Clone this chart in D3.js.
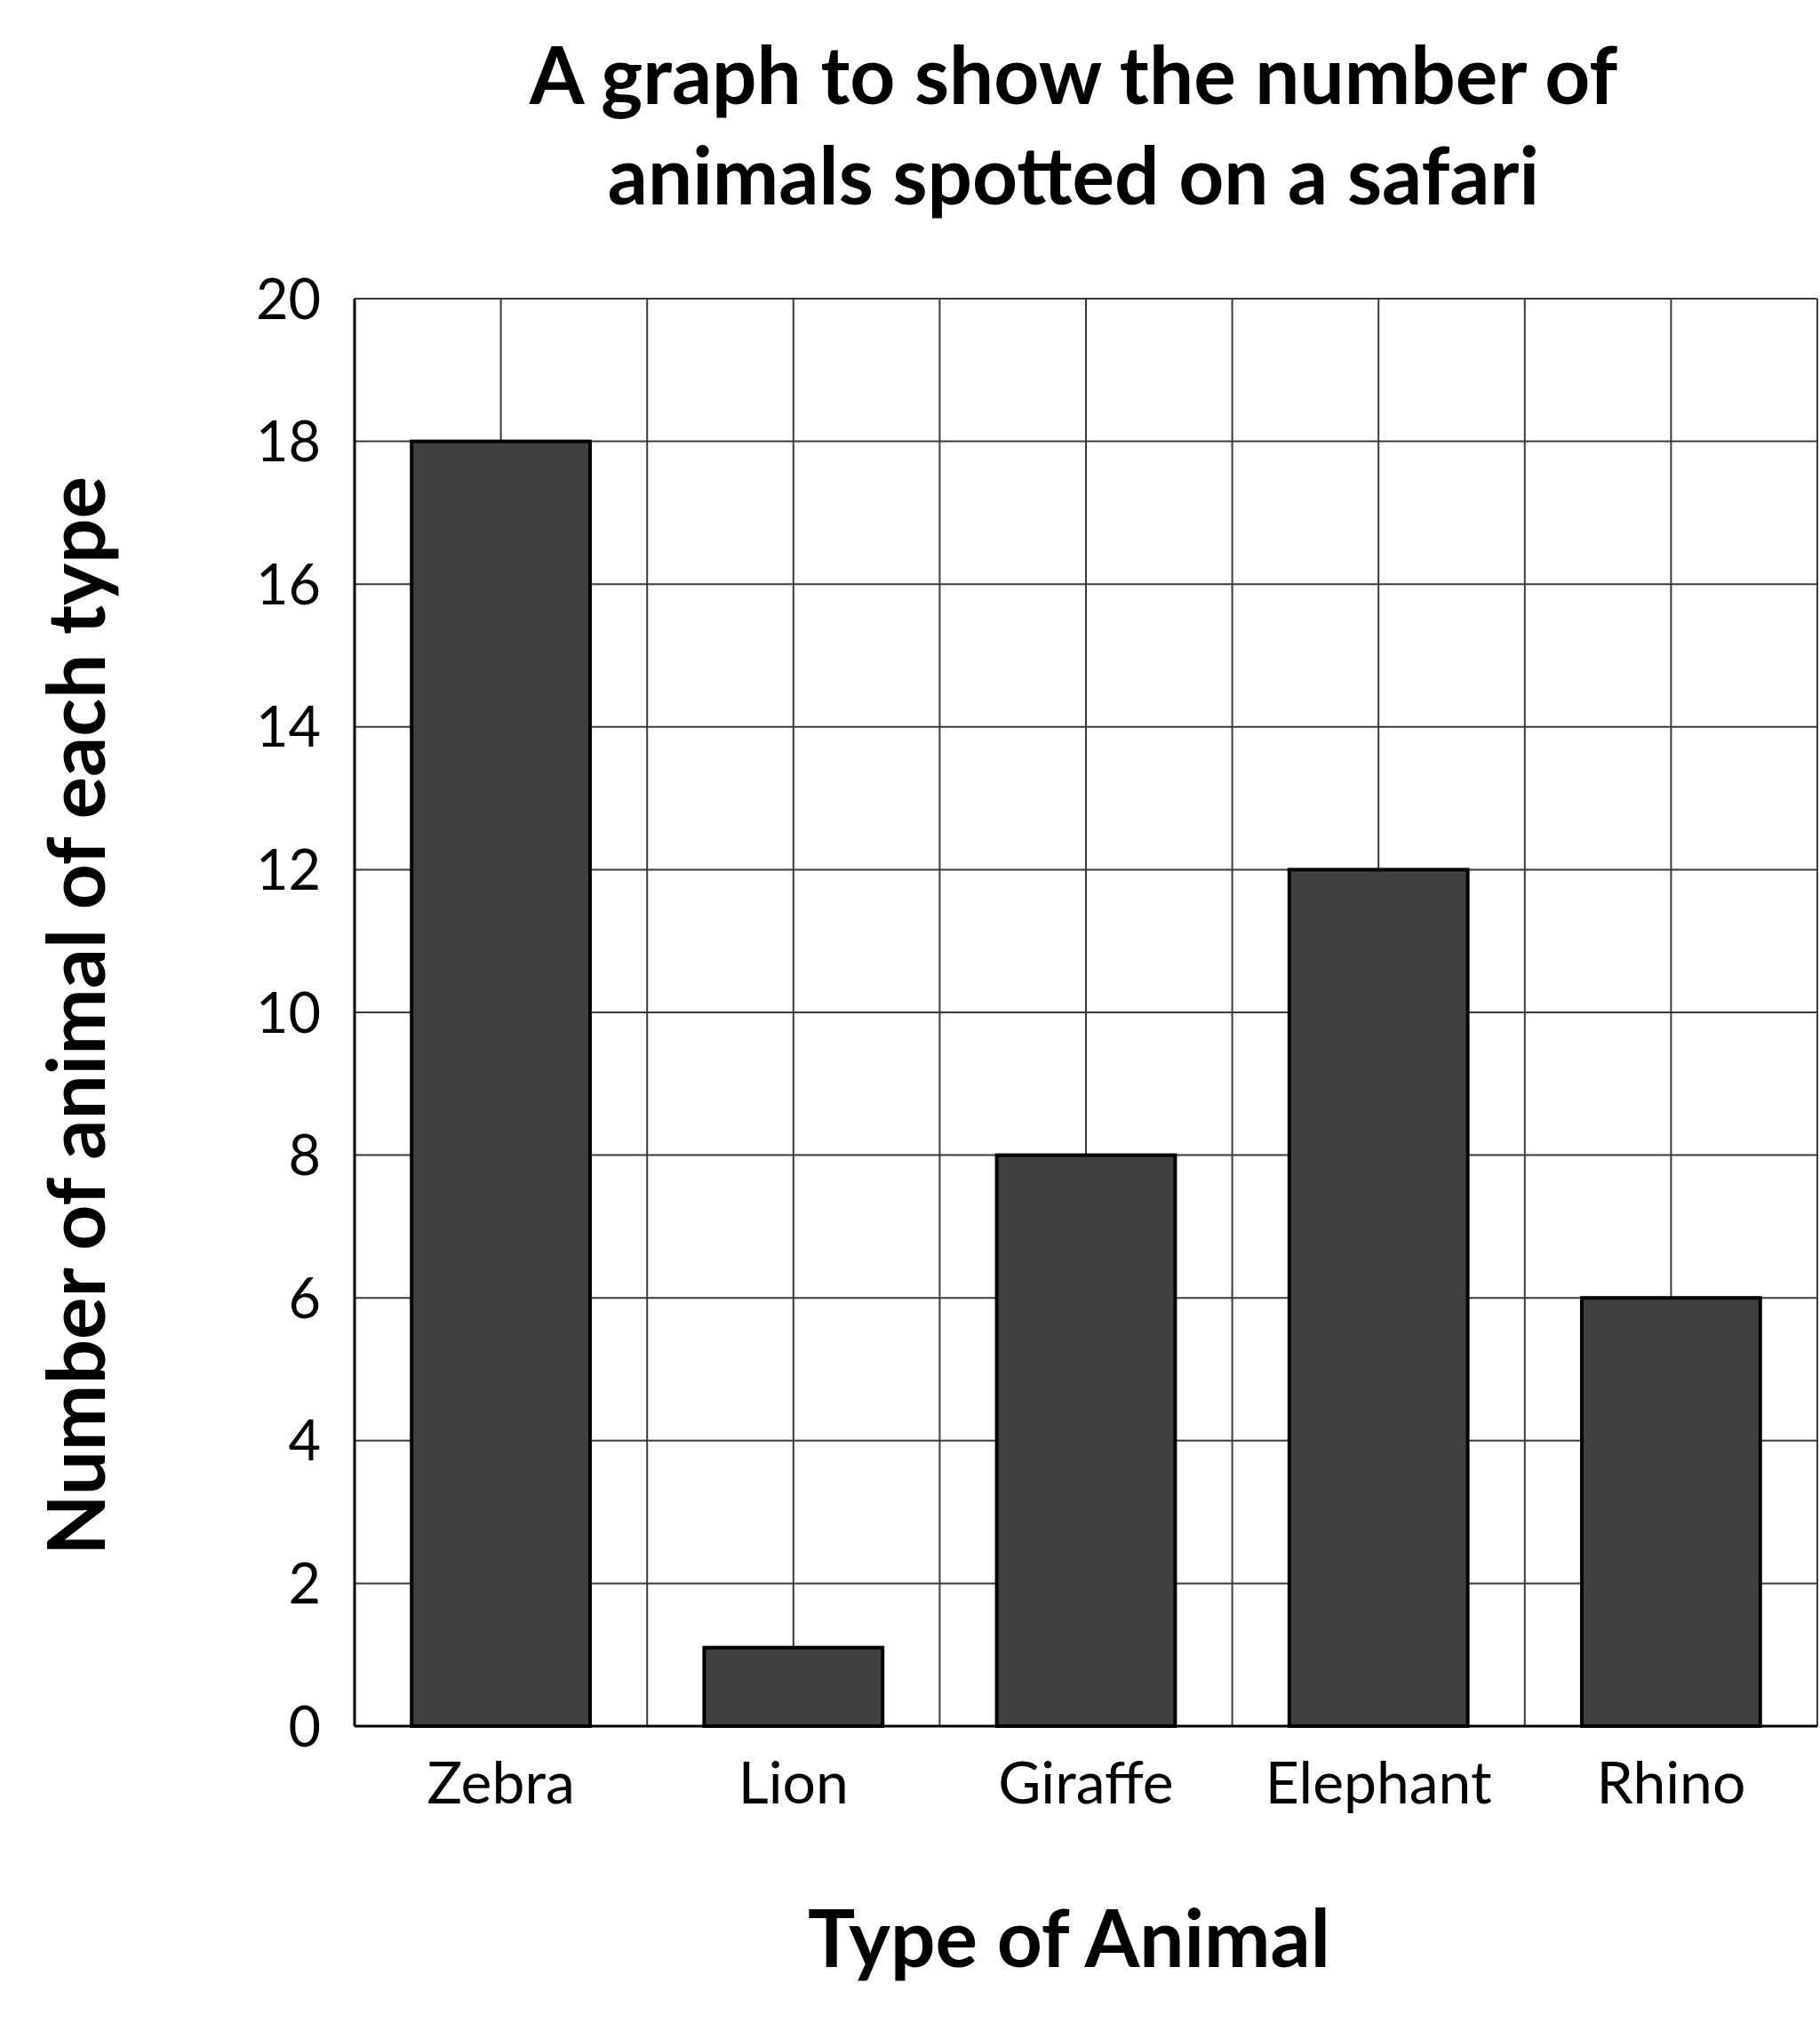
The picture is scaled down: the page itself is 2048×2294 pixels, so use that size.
<!DOCTYPE html>
<html>
<head>
<meta charset="utf-8">
<script src="https://cdn.jsdelivr.net/npm/d3@7"></script>
<style>
  body { margin: 0; background: #fff; }
  text { font-family: Lato, "Open Sans", sans-serif; fill: #000; }
  .tick-label { font-size: 63px; }
  .cat-label { font-size: 66px; }
  .title { font-size: 89px; font-weight: bold; }
</style>
</head>
<body>
<div id="chart"></div>
<script>
// data
var animals = ["Zebra", "Lion", "Giraffe", "Elephant", "Rhino"],
    counts = [18, 1.1, 8, 12, 6],
    yTicks = [0, 2, 4, 6, 8, 10, 12, 14, 16, 18, 20],
    titleLines = ["A graph to show the number of", "animals spotted on a safari"],
    xTitle = "Type of Animal",
    yTitle = "Number of animal of each type";

var W = 2048, H = 2294,
    margin = { top: 336, right: 3, bottom: 352, left: 399 };

var svg = d3.select("#chart").append("svg")
    .attr("width", W)
    .attr("height", H);

var x = d3.scaleBand()
    .domain(animals)
    .range([margin.left, W - margin.right]);

var y = d3.scaleLinear()
    .domain([0, 20])
    .range([H - margin.bottom, margin.top]);

var bw = x.bandwidth(),
    barW = bw * 0.61;

// vertical grid: band edges plus band centres
var vLines = [];
animals.forEach(function(a) {
    vLines.push(x(a));
    vLines.push(x(a) + bw / 2);
});
vLines.push(x(animals[animals.length - 1]) + bw);

svg.append("g").selectAll("line.hgrid")
    .data(yTicks)
    .enter().append("line")
        .attr("class", "hgrid")
        .attr("x1", margin.left)
        .attr("x2", W - margin.right)
        .attr("y1", function(d) { return y(d); })
        .attr("y2", function(d) { return y(d); })
        .attr("stroke", "#3a3a3a")
        .attr("stroke-width", 2);

svg.append("g").selectAll("line.vgrid")
    .data(vLines)
    .enter().append("line")
        .attr("class", "vgrid")
        .attr("x1", function(d) { return d; })
        .attr("x2", function(d) { return d; })
        .attr("y1", y(20))
        .attr("y2", y(0))
        .attr("stroke", "#3a3a3a")
        .attr("stroke-width", 2);

// bars
svg.append("g").selectAll("rect")
    .data(animals)
    .enter().append("rect")
        .attr("x", function(d) { return x(d) + (bw - barW) / 2; })
        .attr("y", function(d, i) { return y(counts[i]); })
        .attr("width", barW)
        .attr("height", function(d, i) { return y(0) - y(counts[i]); })
        .attr("fill", "#404040")
        .attr("stroke", "#000")
        .attr("stroke-width", 4);

// axis lines
svg.append("line")
    .attr("x1", margin.left).attr("x2", margin.left)
    .attr("y1", y(20)).attr("y2", y(0))
    .attr("stroke", "#000").attr("stroke-width", 3);
svg.append("line")
    .attr("x1", margin.left).attr("x2", W - margin.right)
    .attr("y1", y(0)).attr("y2", y(0))
    .attr("stroke", "#000").attr("stroke-width", 3);

// y tick labels
svg.append("g").selectAll("text")
    .data(yTicks)
    .enter().append("text")
        .attr("class", "tick-label")
        .attr("x", margin.left - 38)
        .attr("y", function(d) { return y(d); })
        .attr("dy", "0.36em")
        .style("text-anchor", "end")
        .text(function(d) { return d; });

// x category labels
svg.append("g").selectAll("text")
    .data(animals)
    .enter().append("text")
        .attr("class", "cat-label")
        .attr("x", function(d) { return x(d) + bw / 2; })
        .attr("y", y(0) + 87)
        .style("text-anchor", "middle")
        .text(function(d) { return d; });

// titles
svg.append("g").selectAll("text")
    .data(titleLines)
    .enter().append("text")
        .attr("class", "title")
        .attr("x", 1208)
        .attr("y", function(d, i) { return 117 + i * 113; })
        .style("text-anchor", "middle")
        .text(function(d) { return d; });

svg.append("text")
    .attr("class", "title")
    .attr("x", 1203)
    .attr("y", 2213)
    .style("text-anchor", "middle")
    .text(xTitle);

svg.append("text")
    .attr("class", "title")
    .attr("transform", "translate(118," + 1143 + ") rotate(-90)")
    .style("text-anchor", "middle")
    .text(yTitle);
</script>
</body>
</html>
